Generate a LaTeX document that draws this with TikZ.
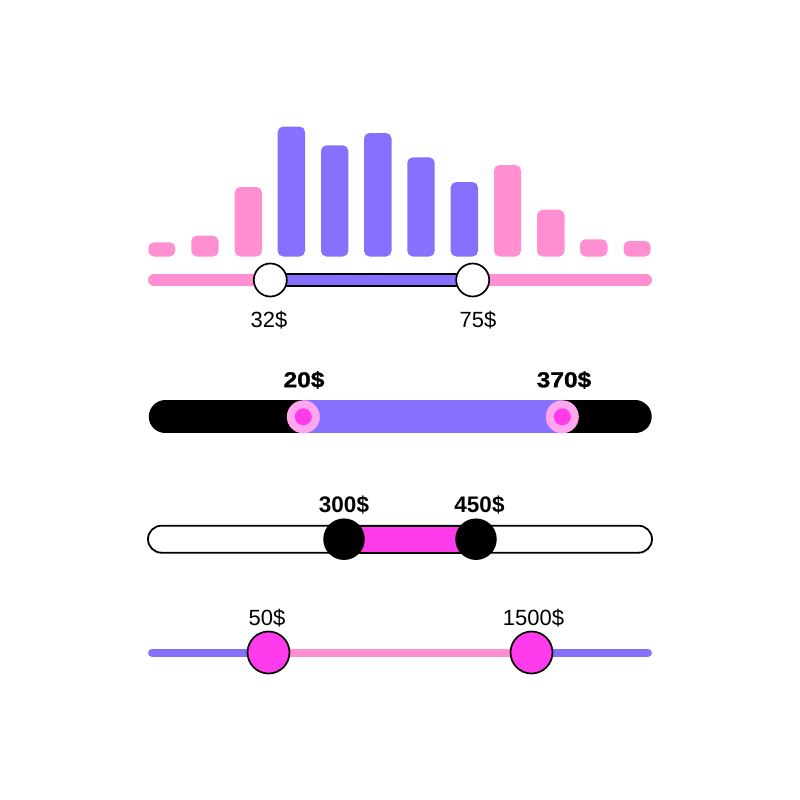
\documentclass[tikz,border=0pt]{standalone}
\usepackage{fontspec}
\setmainfont{Liberation Sans}
\newfontfamily\heavyfont{Liberation Sans}[BoldFeatures={FakeStretch=1.14,FakeBold=1.2}]
\definecolor{violetbar}{HTML}{8870FF}
\definecolor{pinkbar}{HTML}{FF8FD0}
\definecolor{magentafill}{HTML}{FF3BEB}
\definecolor{paleknob}{HTML}{FFA6EE}
\tikzset{
  barbox/.style={rounded corners=5.5pt},
  lowbar/.style={barbox,fill=pinkbar},
  highbar/.style={barbox,fill=violetbar},
  knob/.style={circle,inner sep=0pt,draw=black,line width=1.7pt,minimum size=#1},
  ringknob/.style={circle,inner sep=0pt,fill=paleknob,minimum size=33pt},
  ringcore/.style={circle,inner sep=0pt,fill=magentafill,minimum size=17pt},
  plainlabel/.style={inner sep=0pt,font=\fontsize{22}{26}\selectfont},
  boldlabel/.style={inner sep=0pt,font=\fontsize{22.5}{26}\selectfont\bfseries},
  heavylabel/.style={inner sep=0pt,font=\fontsize{21.5}{26}\selectfont\heavyfont\bfseries},
}
\begin{document}
\begin{tikzpicture}[x=1pt,y=-1pt]
\useasboundingbox[fill=white] (0,0) rectangle (800,800);
% histogram
\foreach \l/\t/\r/\s in {148.3/242.3/175.3/lowbar,191.3/235.7/218.5/lowbar,234.7/187/262/lowbar,277.7/126.5/305/highbar,321/145.3/348.3/highbar,364/133/391.5/highbar,407.3/157.3/434.7/highbar,450.7/182/478/highbar,494/165/521/lowbar,537/209.7/564.5/lowbar,580/239.3/607.5/lowbar,623.5/241/650.7/lowbar}
  \fill[\s] (\l,\t) rectangle (\r,256.5);
% slider 1
\coordinate (a0) at (154,280);
\coordinate (a1) at (270.3,280);
\coordinate (a2) at (472.7,280);
\coordinate (a3) at (646,280);
\draw[pinkbar,line width=12pt,line cap=round] (a0) -- (a1);
\draw[pinkbar,line width=12pt,line cap=round] (a2) -- (a3);
\draw[black,line width=14pt] (a1) -- (a2);
\draw[violetbar,line width=10.6pt] (a1) -- (a2);
\node[knob=33pt,fill=white] (a1k) at (a1) {};
\node[knob=33pt,fill=white] (a2k) at (a2) {};
\node[plainlabel] (a1t) at (269,320.5) {32\$};
\node[plainlabel] (a2t) at (478,320.5) {75\$};
% slider 2
\coordinate (b0) at (165.3,416.8);
\coordinate (b3) at (635.2,416.8);
\coordinate (b1) at (303.3,416.8);
\coordinate (b2) at (562.3,416.8);
\draw[black,line width=33pt,line cap=round] (b0) -- (b3);
\draw[violetbar,line width=33pt] (b1) -- (b2);
\node[ringknob] (b1k) at (b1) {};
\node[ringknob] (b2k) at (b2) {};
\node[ringcore] (b1c) at (b1k) {};
\node[ringcore] (b2c) at (b2k) {};
\node[heavylabel] (b1t) at (304,380) {20\$};
\node[heavylabel] (b2t) at (564,380) {370\$};
% slider 3
\coordinate (c1) at (344,539.2);
\coordinate (c2) at (476,539.2);
\draw[black,line width=1.8pt,fill=white,rounded corners=13.5pt] (148,525.7) rectangle (652,552.7);
\draw[black,line width=1.8pt,fill=magentafill] (c1|-0,525.7) rectangle (c2|-0,552.7);
\node[circle,inner sep=0pt,fill=black,minimum size=41.5pt] (c1k) at (c1) {};
\node[circle,inner sep=0pt,fill=black,minimum size=41.5pt] (c2k) at (c2) {};
\node[boldlabel] (c1t) at (344,504.5) {300\$};
\node[boldlabel] (c2t) at (479.5,504.5) {450\$};
% slider 4
\coordinate (d0) at (152,652.5);
\coordinate (d3) at (648,652.5);
\coordinate (d1) at (268.5,652.5);
\coordinate (d2) at (531.5,652.5);
\draw[violetbar,line width=8pt,line cap=round] (d0) -- (d3);
\draw[pinkbar,line width=8pt] (d1) -- (d2);
\node[knob=42pt,fill=magentafill] (d1k) at (d1) {};
\node[knob=42pt,fill=magentafill] (d2k) at (d2) {};
\node[plainlabel] (d1t) at (267,618) {50\$};
\node[plainlabel] (d2t) at (533.5,618) {1500\$};
\end{tikzpicture}
\end{document}
